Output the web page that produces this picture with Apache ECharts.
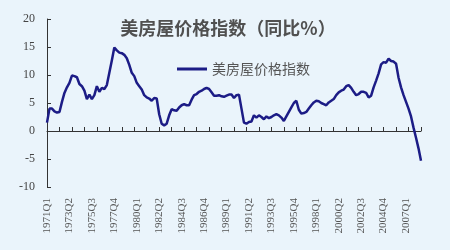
<!DOCTYPE html>
<html>
<head>
<meta charset="utf-8">
<script src="https://cdn.jsdelivr.net/npm/echarts@6/dist/echarts.min.js"></script>
<style>
html,body{margin:0;padding:0;background:#eaf4fb;}
#c{width:450px;height:250px;}
</style>
</head>
<body>
<div id="c"></div>
<script>
// Quarterly categories 1971Q1 .. 2008Q3
var categories = [];
for (var y = 1971; y <= 2008; y++) {
  for (var q = 1; q <= 4; q++) {
    if (y === 2008 && q > 3) break;
    categories.push(y + 'Q' + q);
  }
}
var seriesName = '美房屋价格指数';
var titleText = '美房屋价格指数（同比%）';
var values = [
  1.5, 4.0, 4.0, 3.5, 3.3, 3.4, 5.2, 6.8, 7.8, 8.6,
  9.9, 9.8, 9.6, 8.4, 8.0, 7.2, 5.7, 6.5, 5.7, 6.4,
  8.0, 7.0, 7.7, 7.5, 8.2, 10.4, 12.6, 14.9, 14.4, 14.0,
  13.9, 13.6, 13.0, 11.8, 10.4, 9.8, 8.6, 8.0, 7.4, 6.4,
  6.0, 5.8, 5.4, 5.9, 5.8, 3.0, 1.3, 1.0, 1.3, 2.8,
  3.9, 3.7, 3.6, 4.2, 4.6, 4.8, 4.6, 4.6, 5.6, 6.4,
  6.6, 7.0, 7.2, 7.5, 7.7, 7.5, 6.9, 6.3, 6.3, 6.4,
  6.2, 6.1, 6.3, 6.5, 6.5, 5.9, 6.4, 6.5, 4.0, 1.5,
  1.3, 1.6, 1.7, 2.8, 2.4, 2.8, 2.5, 2.1, 2.6, 2.3,
  2.5, 2.8, 3.0, 2.8, 2.4, 1.8, 2.6, 3.4, 4.2, 5.0,
  5.4, 3.8, 3.1, 3.2, 3.4, 4.0, 4.6, 5.1, 5.4, 5.3,
  5.0, 4.8, 4.6, 5.1, 5.4, 5.7, 6.4, 6.9, 7.2, 7.4,
  8.0, 8.2, 7.7, 7.0, 6.4, 6.6, 7.0, 7.0, 6.8, 6.0,
  6.3, 7.8, 9.0, 10.3, 11.9, 12.3, 12.2, 12.9, 12.5, 12.4,
  12.0, 9.5, 7.8, 6.4, 5.2, 4.0, 2.6, 0.6, -1.2, -3.1,
  -5.3
];
var yMin = -10, yMax = 20, yStep = 5;

var chart = echarts.init(document.getElementById('c'), null, {renderer: 'canvas'});
chart.setOption({
  backgroundColor: '#eaf4fb',
  animation: false,
  title: {
    text: titleText,
    left: 223, top: 14, textAlign: 'center',
    textStyle: {fontFamily: 'Noto Sans CJK SC', fontSize: 18, fontWeight: 'bold', color: '#505050'}
  },
  legend: {
    data: [seriesName],
    left: 172, top: 57,
    icon: 'rect', itemWidth: 30, itemHeight: 3, itemGap: 4,
    textStyle: {fontFamily: 'Noto Sans CJK SC', fontSize: 14, color: '#555'}
  },
  grid: {left: 47, right: 29, top: 19, bottom: 63},
  xAxis: [{
    type: 'category', data: categories, boundaryGap: false, position: 'bottom',
    axisLine: {onZero: true, lineStyle: {color: '#333', width: 1}},
    axisTick: {show: true, inside: true, length: 4, interval: function (i) { return i % 5 === 0; }, lineStyle: {color: '#333'}},
    axisLabel: {show: false}
  }, {
    type: 'category', data: categories, boundaryGap: false, position: 'bottom',
    axisLine: {show: false, onZero: false},
    axisTick: {show: false},
    axisLabel: {show: true, interval: 8, rotate: 90, margin: 11, fontSize: 11, fontFamily: 'Liberation Serif', color: '#555'}
  }],
  yAxis: {
    type: 'value', min: yMin, max: yMax, interval: yStep,
    axisLine: {show: true, lineStyle: {color: '#333', width: 1}},
    axisTick: {show: true, inside: true, length: 4, lineStyle: {color: '#333'}},
    splitLine: {show: false},
    axisLabel: {margin: 12, fontSize: 12, fontFamily: 'Liberation Serif', color: '#444'}
  },
  series: [{
    name: seriesName, type: 'line', xAxisIndex: 0, data: values,
    showSymbol: false, symbol: 'none',
    lineStyle: {color: '#1c1c86', width: 2.5},
    itemStyle: {color: '#1c1c86'}
  }]
});
</script>
</body>
</html>
